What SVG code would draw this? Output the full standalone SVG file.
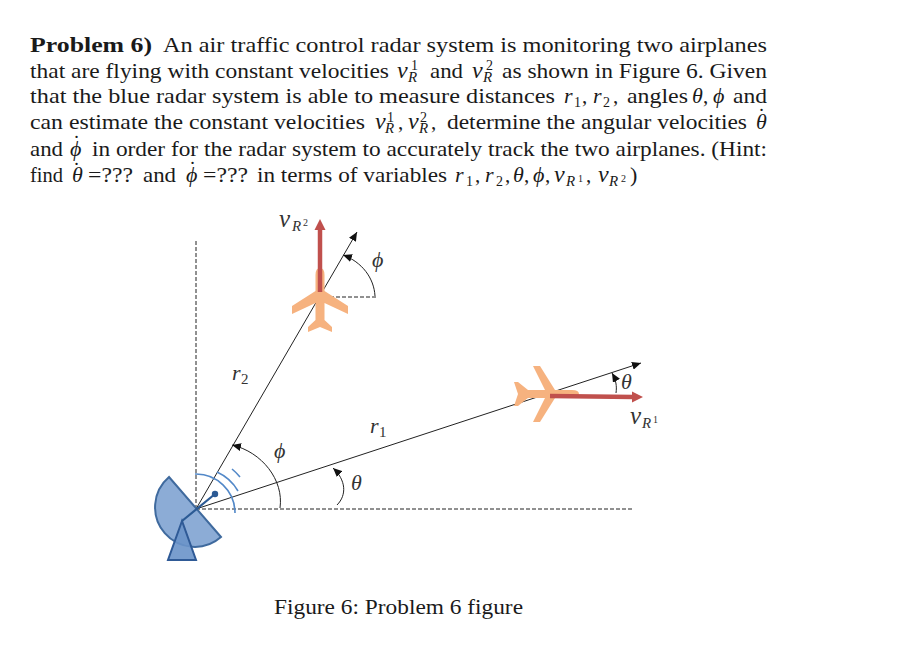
<svg xmlns="http://www.w3.org/2000/svg" width="908" height="660" viewBox="0 0 908 660">
<style>
text{font-family:"Liberation Serif","Times New Roman",serif;fill:#1a1a1a;font-size:21px}
.b{font-weight:bold}
.m{font-style:italic;font-size:22px}
.v{font-style:italic;font-size:24px}
.s{font-size:14px;font-style:normal}
.si{font-size:15px;font-style:italic}
.t{font-size:10px;font-style:normal}
.dot{font-size:21px;font-style:normal}
.d{font-size:22px;font-style:italic;fill:#333}
.dv{font-size:25px;font-style:italic;fill:#333}
.dsi{font-size:15px;font-style:italic;fill:#333}
.dn{font-size:15px;font-style:normal;fill:#333}
.dt{font-size:10px;font-style:normal;fill:#333}
.c{fill:none;stroke:#222;stroke-width:1}
.dash{fill:none;stroke:#222;stroke-width:1;stroke-dasharray:4 2}
.plane{fill:#f6b27f}
.red{stroke:#c0504d;stroke-width:4.500;fill:none}
.wave{fill:none;stroke:#5288c8;stroke-width:1.600}
</style>
<defs>
<marker id="ah" markerUnits="userSpaceOnUse" markerWidth="10" markerHeight="8" refX="9" refY="4" orient="auto"><path d="M0 0L9 4L0 8Z" fill="#111"/></marker>
</defs>
<rect width="908" height="660" fill="#fff"/>
<g id="problem-text">
<text x="30" y="52" class="b" textLength="122" lengthAdjust="spacingAndGlyphs">Problem 6)</text>
<text x="163" y="52" textLength="604" lengthAdjust="spacingAndGlyphs">An air traffic control radar system is monitoring two airplanes</text>
<text x="30" y="78" textLength="359" lengthAdjust="spacingAndGlyphs">that are flying with constant velocities</text>
<text x="397" y="78" class="v">v<tspan class="s" x="411" y="70">1</tspan><tspan class="si" x="408" y="82">R</tspan></text>
<text x="430" y="78" textLength="33" lengthAdjust="spacingAndGlyphs">and</text>
<text x="472" y="78" class="v">v<tspan class="s" x="486" y="70">2</tspan><tspan class="si" x="483" y="82">R</tspan></text>
<text x="502" y="78" textLength="265" lengthAdjust="spacingAndGlyphs">as shown in Figure 6. Given</text>
<text x="30" y="103" textLength="525" lengthAdjust="spacingAndGlyphs">that the blue radar system is able to measure distances</text>
<text x="564" y="103" class="m">r<tspan class="s" x="574" y="107">1</tspan><tspan class="dot" x="582" y="103">,</tspan><tspan x="593" y="103">r</tspan><tspan class="s" x="603" y="107">2</tspan><tspan class="dot" x="613" y="103">,</tspan></text>
<text x="627" y="103" textLength="61" lengthAdjust="spacingAndGlyphs">angles</text>
<text x="692" y="103" class="m">θ<tspan class="dot" x="703" y="103">,</tspan><tspan x="713" y="103">ϕ</tspan></text>
<text x="733" y="103" textLength="34" lengthAdjust="spacingAndGlyphs">and</text>
<text x="30" y="129" textLength="335" lengthAdjust="spacingAndGlyphs">can estimate the constant velocities</text>
<text x="375" y="129" class="v">v<tspan class="s" x="387" y="122">1</tspan><tspan class="si" x="385" y="133">R</tspan><tspan class="dot" x="398" y="129">,</tspan><tspan x="408" y="129">v</tspan><tspan class="s" x="420" y="122">2</tspan><tspan class="si" x="419" y="133">R</tspan><tspan class="dot" x="431" y="129">,</tspan></text>
<text x="447" y="129" textLength="300" lengthAdjust="spacingAndGlyphs">determine the angular velocities</text>
<text x="756" y="129" class="m">θ<tspan class="dot" x="758" y="123">˙</tspan></text>
<text x="30" y="156" textLength="33" lengthAdjust="spacingAndGlyphs">and</text>
<text x="70" y="156" class="m">ϕ<tspan class="dot" x="73" y="150">˙</tspan></text>
<text x="92" y="156" textLength="675" lengthAdjust="spacingAndGlyphs">in order for the radar system to accurately track the two airplanes. (Hint:</text>
<text x="30" y="182" textLength="33" lengthAdjust="spacingAndGlyphs">find</text>
<text x="72" y="182" class="m">θ<tspan class="dot" x="73" y="177">˙</tspan></text>
<text x="88" y="182" textLength="45" lengthAdjust="spacingAndGlyphs">=???</text>
<text x="143" y="182" textLength="33" lengthAdjust="spacingAndGlyphs">and</text>
<text x="186" y="182" class="m">ϕ<tspan class="dot" x="189" y="176">˙</tspan></text>
<text x="203" y="182" textLength="45" lengthAdjust="spacingAndGlyphs">=???</text>
<text x="257" y="182" textLength="190" lengthAdjust="spacingAndGlyphs">in terms of variables</text>
<text x="455" y="182" class="m">r<tspan class="s" x="466" y="186">1</tspan><tspan class="dot" x="475" y="182">,</tspan><tspan x="485" y="182">r</tspan><tspan class="s" x="496" y="186">2</tspan><tspan class="dot" x="505" y="182">,</tspan><tspan x="513" y="182">θ</tspan><tspan class="dot" x="524" y="182">,</tspan><tspan x="533" y="182">ϕ</tspan><tspan class="dot" x="545" y="182">,</tspan></text>
<text x="554" y="182" class="v">v<tspan class="si" x="566" y="186">R</tspan><tspan class="t" x="578" y="182">1</tspan><tspan class="dot" x="586" y="182">,</tspan><tspan x="598" y="182">v</tspan><tspan class="si" x="609" y="186">R</tspan><tspan class="t" x="621" y="182">2</tspan><tspan class="dot" x="630" y="182" style="font-size:22px">)</tspan></text>
</g>
<g id="connectors">
<path class="dash" d="M196 241V509"/>
<path class="dash" d="M196 509H634"/>
<path class="dash" d="M318 297H376"/>
<path class="c" d="M196 509L641 363" marker-end="url(#ah)"/>
<path class="c" d="M196 509L357 232" marker-end="url(#ah)"/>
<path class="c" d="M280 508C284 480 262 452 232 445" marker-end="url(#ah)"/>
<path class="c" d="M337 505C347 495 346 480 333 468" marker-end="url(#ah)"/>
<path class="c" d="M375 296C374 278 362 262 343 255" marker-end="url(#ah)"/>
<path class="c" d="M616 393C617 386 616 380 612 373" marker-end="url(#ah)"/>
</g>
<g id="plane-2">
<path class="plane" d="M315.500 291V275Q315.500 268 320 268Q324.500 268 324.500 275V291L348 306V314L324.500 303V320L332 327V332L320 327L308 332V327L315.500 320V303L292 314V306Z"/>
<path class="red" d="M320 292V228"/>
<path d="M320 219L325.500 230H314.500Z" fill="#c0504d"/>
</g>
<g id="plane-1">
<path class="plane" d="M555 390H572Q579 390 579 394Q579 398 572 398H555L540 422H533L545 398H528L518 406H514L518 394L514 382H518L528 390H545L533 366H540Z"/>
<path class="red" d="M550 396L634 397"/>
<path d="M643 397L632 402.500V391.500Z" fill="#c0504d"/>
</g>
<g id="radar">
<path d="M169 477L221 537A39.700 39.700 0 1 1 169 477Z" fill="#8cacd6" stroke="#3f6a9e" stroke-width="2"/>
<path d="M182 521L168 560H196Z" fill="#6a94c9" fill-opacity=".9" stroke="#2f5a96" stroke-width="2"/>
<path d="M182 521L215 494" stroke="#2b5a94" stroke-width="2.200" fill="none"/>
<circle cx="215" cy="494" r="3.200" fill="#2b5a94"/>
<path class="wave" d="M195 474A39 39 0 0 1 235 513"/>
<path class="wave" d="M217 472A46 46 0 0 1 238 491"/>
<path class="wave" d="M232 469A57 57 0 0 1 240 477"/>
</g>
<g id="labels">
<text x="279" y="227" class="dv">v<tspan class="dsi" x="292" y="231">R</tspan><tspan class="dt" x="303" y="226">2</tspan></text>
<text x="372" y="267" class="d">ϕ</text>
<text x="232" y="380" class="d">r<tspan class="dn" x="241" y="384">2</tspan></text>
<text x="370" y="433" class="d">r<tspan class="dn" x="379" y="437">1</tspan></text>
<text x="274" y="458" class="d">ϕ</text>
<text x="351" y="490" class="d">θ</text>
<text x="621" y="389" class="d">θ</text>
<text x="630" y="424" class="dv">v<tspan class="dsi" x="642" y="428">R</tspan><tspan class="dt" x="653" y="423">1</tspan></text>
</g>
<g id="caption">
<text x="274" y="614" textLength="249" lengthAdjust="spacingAndGlyphs">Figure 6: Problem 6 figure</text>
</g>
</svg>
